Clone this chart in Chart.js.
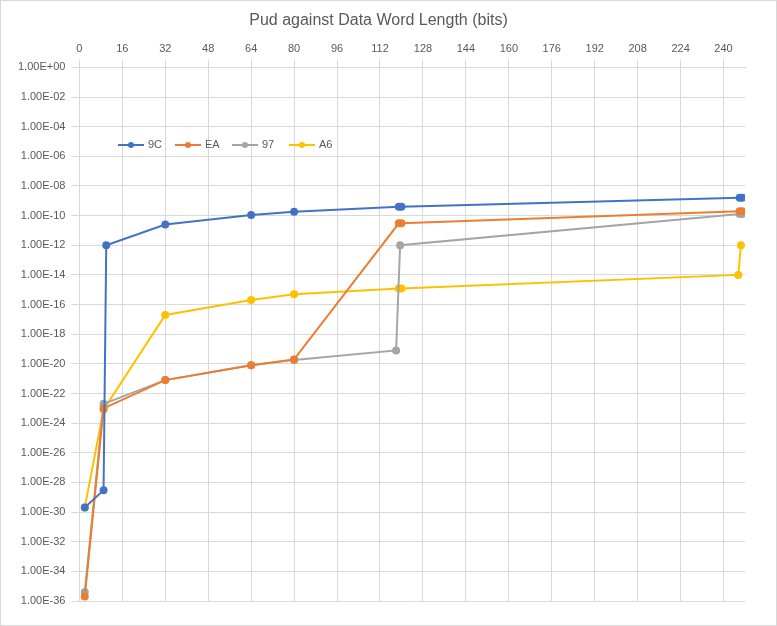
<!DOCTYPE html><html><head><meta charset="utf-8">
<script src="https://cdn.jsdelivr.net/npm/chart.js@4"></script>
<style>html,body{margin:0;padding:0;background:#fff}#w{width:775px;height:624px;border:1px solid #d9d9d9}</style></head><body>
<div id="w"><canvas id="c"></canvas></div>
<script>
const names=["9C","EA","97","A6"];
const colors=["#4472C4","#ED7D31","#A5A5A5","#FFC000"];
const x9C=[2,9,10,32,64,80,119,120,246,247];
const y9C=[2e-30,3e-29,1e-12,2.5e-11,1.1e-10,1.8e-10,4e-10,4e-10,1.6e-9,1.6e-9];
const xEA=[2,9,32,64,80,119,120,246,247];
const yEA=[2e-36,1e-23,8e-22,8e-21,2e-20,3e-11,3e-11,2e-10,2e-10];
const x97=[2,9,32,64,80,118,119.5,246,247];
const y97=[4e-36,2e-23,8e-22,8e-21,1.8e-20,8e-20,1e-12,1.3e-10,1.3e-10];
const xA6=[2,9,32,64,80,119,120,245.5,246.5];
const yA6=[2e-30,8e-24,2e-17,2e-16,5e-16,1.2e-15,1.2e-15,1e-14,1e-12];
const xTicks=[0,16,32,48,64,80,96,112,128,144,160,176,192,208,224,240];
const yExps=[0,-2,-4,-6,-8,-10,-12,-14,-16,-18,-20,-22,-24,-26,-28,-30,-32,-34,-36];
const xs=[x9C,xEA,x97,xA6], ys=[y9C,yEA,y97,yA6];
const fmt=e=>"1.00E"+(e<0?"-":"+")+String(Math.abs(e)).padStart(2,"0");
const legendPlugin={id:"lg",afterDraw(ch){const c=ch.ctx;c.save();c.font="11px 'Liberation Sans', Arial";c.textBaseline="middle";
let x=117,y=144;names.forEach((n,i)=>{c.strokeStyle=colors[i];c.fillStyle=colors[i];c.lineWidth=2;c.beginPath();c.moveTo(x,y);c.lineTo(x+26,y);c.stroke();
c.beginPath();c.arc(x+13,y,3,0,7);c.fill();c.fillStyle="#595959";c.fillText(n,x+30,y);x+=57;});c.restore();}};
new Chart(document.getElementById("c"),{type:"scatter",
data:{datasets:names.map((n,i)=>({label:n,data:xs[i].map((v,j)=>({x:v,y:ys[i][j]})),showLine:true,borderColor:colors[i],backgroundColor:colors[i],borderWidth:2,pointRadius:3,pointHoverRadius:3}))},
options:{responsive:true,maintainAspectRatio:false,animation:false,
layout:{padding:{left:11,right:31,top:6,bottom:24}},
plugins:{legend:{display:false},tooltip:{enabled:false},title:{display:true,text:"Pud against Data Word Length (bits)",color:"#595959",font:{size:16,family:"'Liberation Sans', Arial",weight:"normal"},padding:{top:4,bottom:8}}},
scales:{x:{type:"linear",position:"top",min:0,max:248,afterBuildTicks:s=>{s.ticks=xTicks.map(v=>({value:v}))},
grid:{color:"#d9d9d9"},border:{color:"#d9d9d9"},ticks:{color:"#595959",font:{size:11,family:"'Liberation Sans', Arial"},maxRotation:0,padding:4}},
y:{type:"logarithmic",min:1e-36,max:1,afterBuildTicks:s=>{s.ticks=yExps.map(e=>({value:Math.pow(10,e)}))},
grid:{color:"#d9d9d9"},border:{color:"#d9d9d9"},ticks:{color:"#595959",font:{size:11,family:"'Liberation Sans', Arial"},padding:6,callback:(v)=>fmt(Math.round(Math.log10(v)))}}}},
plugins:[legendPlugin]});
</script></body></html>
